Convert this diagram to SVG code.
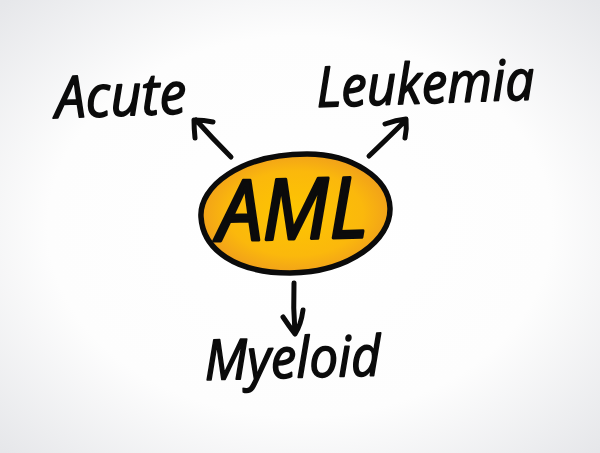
<svg xmlns="http://www.w3.org/2000/svg" width="600" height="453" viewBox="0 0 600 453">
<defs>
<radialGradient id="bg" cx="50%" cy="50%" r="70%"><stop offset="0" stop-color="#ffffff"/><stop offset="0.6" stop-color="#fdfdfd"/><stop offset="1" stop-color="#e6e7ea"/></radialGradient>
<radialGradient id="fill" cx="50%" cy="50%" r="55%"><stop offset="0" stop-color="#fdc600"/><stop offset="0.65" stop-color="#fbb80c"/><stop offset="1" stop-color="#ee9a1e"/></radialGradient>
</defs>
<style>
.hand{font-family:"Open Sans","Liberation Sans",Arial,sans-serif;font-style:italic;fill:#0b0b0b;stroke:#0b0b0b;stroke-linejoin:round;stroke-linecap:round}
.arrow{fill:none;stroke:#0b0b0b;stroke-width:5;stroke-linecap:round;stroke-linejoin:round}
</style>
<rect width="600" height="453" fill="url(#bg)"/>
<g id="connectors">
<path class="arrow" d="M231 157Q212 138 196 120M195 138Q194 128 194 120Q204 120 213 122"/>
<path class="arrow" d="M369 156Q389 137 406 120M385 124Q396 120 406 119Q407 129 405 138"/>
<path class="arrow" d="M294 283Q293 308 295 333M283 317Q289 326 295 334Q301 325 303 310"/>
</g>
<g id="node-aml">
<path d="M201 217C199 187 240 154 307 154C352 154 389 178 390 208C391 240 350 272 290 273C236 273 203 250 201 217Z" fill="url(#fill)" stroke="#0b0b0b" stroke-width="5.5"/>
<text class="hand" transform="rotate(-1.5 218 241)" x="218" y="241" font-size="84" stroke-width="3" textLength="150" lengthAdjust="spacingAndGlyphs">AML</text>
</g>
<g id="node-acute">
<text class="hand" transform="rotate(-2 56 118)" x="56" y="118" font-size="58" stroke-width="1.6" textLength="131" lengthAdjust="spacingAndGlyphs">Acute</text>
</g>
<g id="node-leukemia">
<text class="hand" transform="rotate(-2 317 107)" x="317" y="107" font-size="56" stroke-width="1.6" textLength="218" lengthAdjust="spacingAndGlyphs">Leukemia</text>
</g>
<g id="node-myeloid">
<text class="hand" transform="rotate(-1.5 205 380)" x="205" y="380" font-size="56" stroke-width="1.6" textLength="176" lengthAdjust="spacingAndGlyphs">Myeloid</text>
</g>
</svg>
